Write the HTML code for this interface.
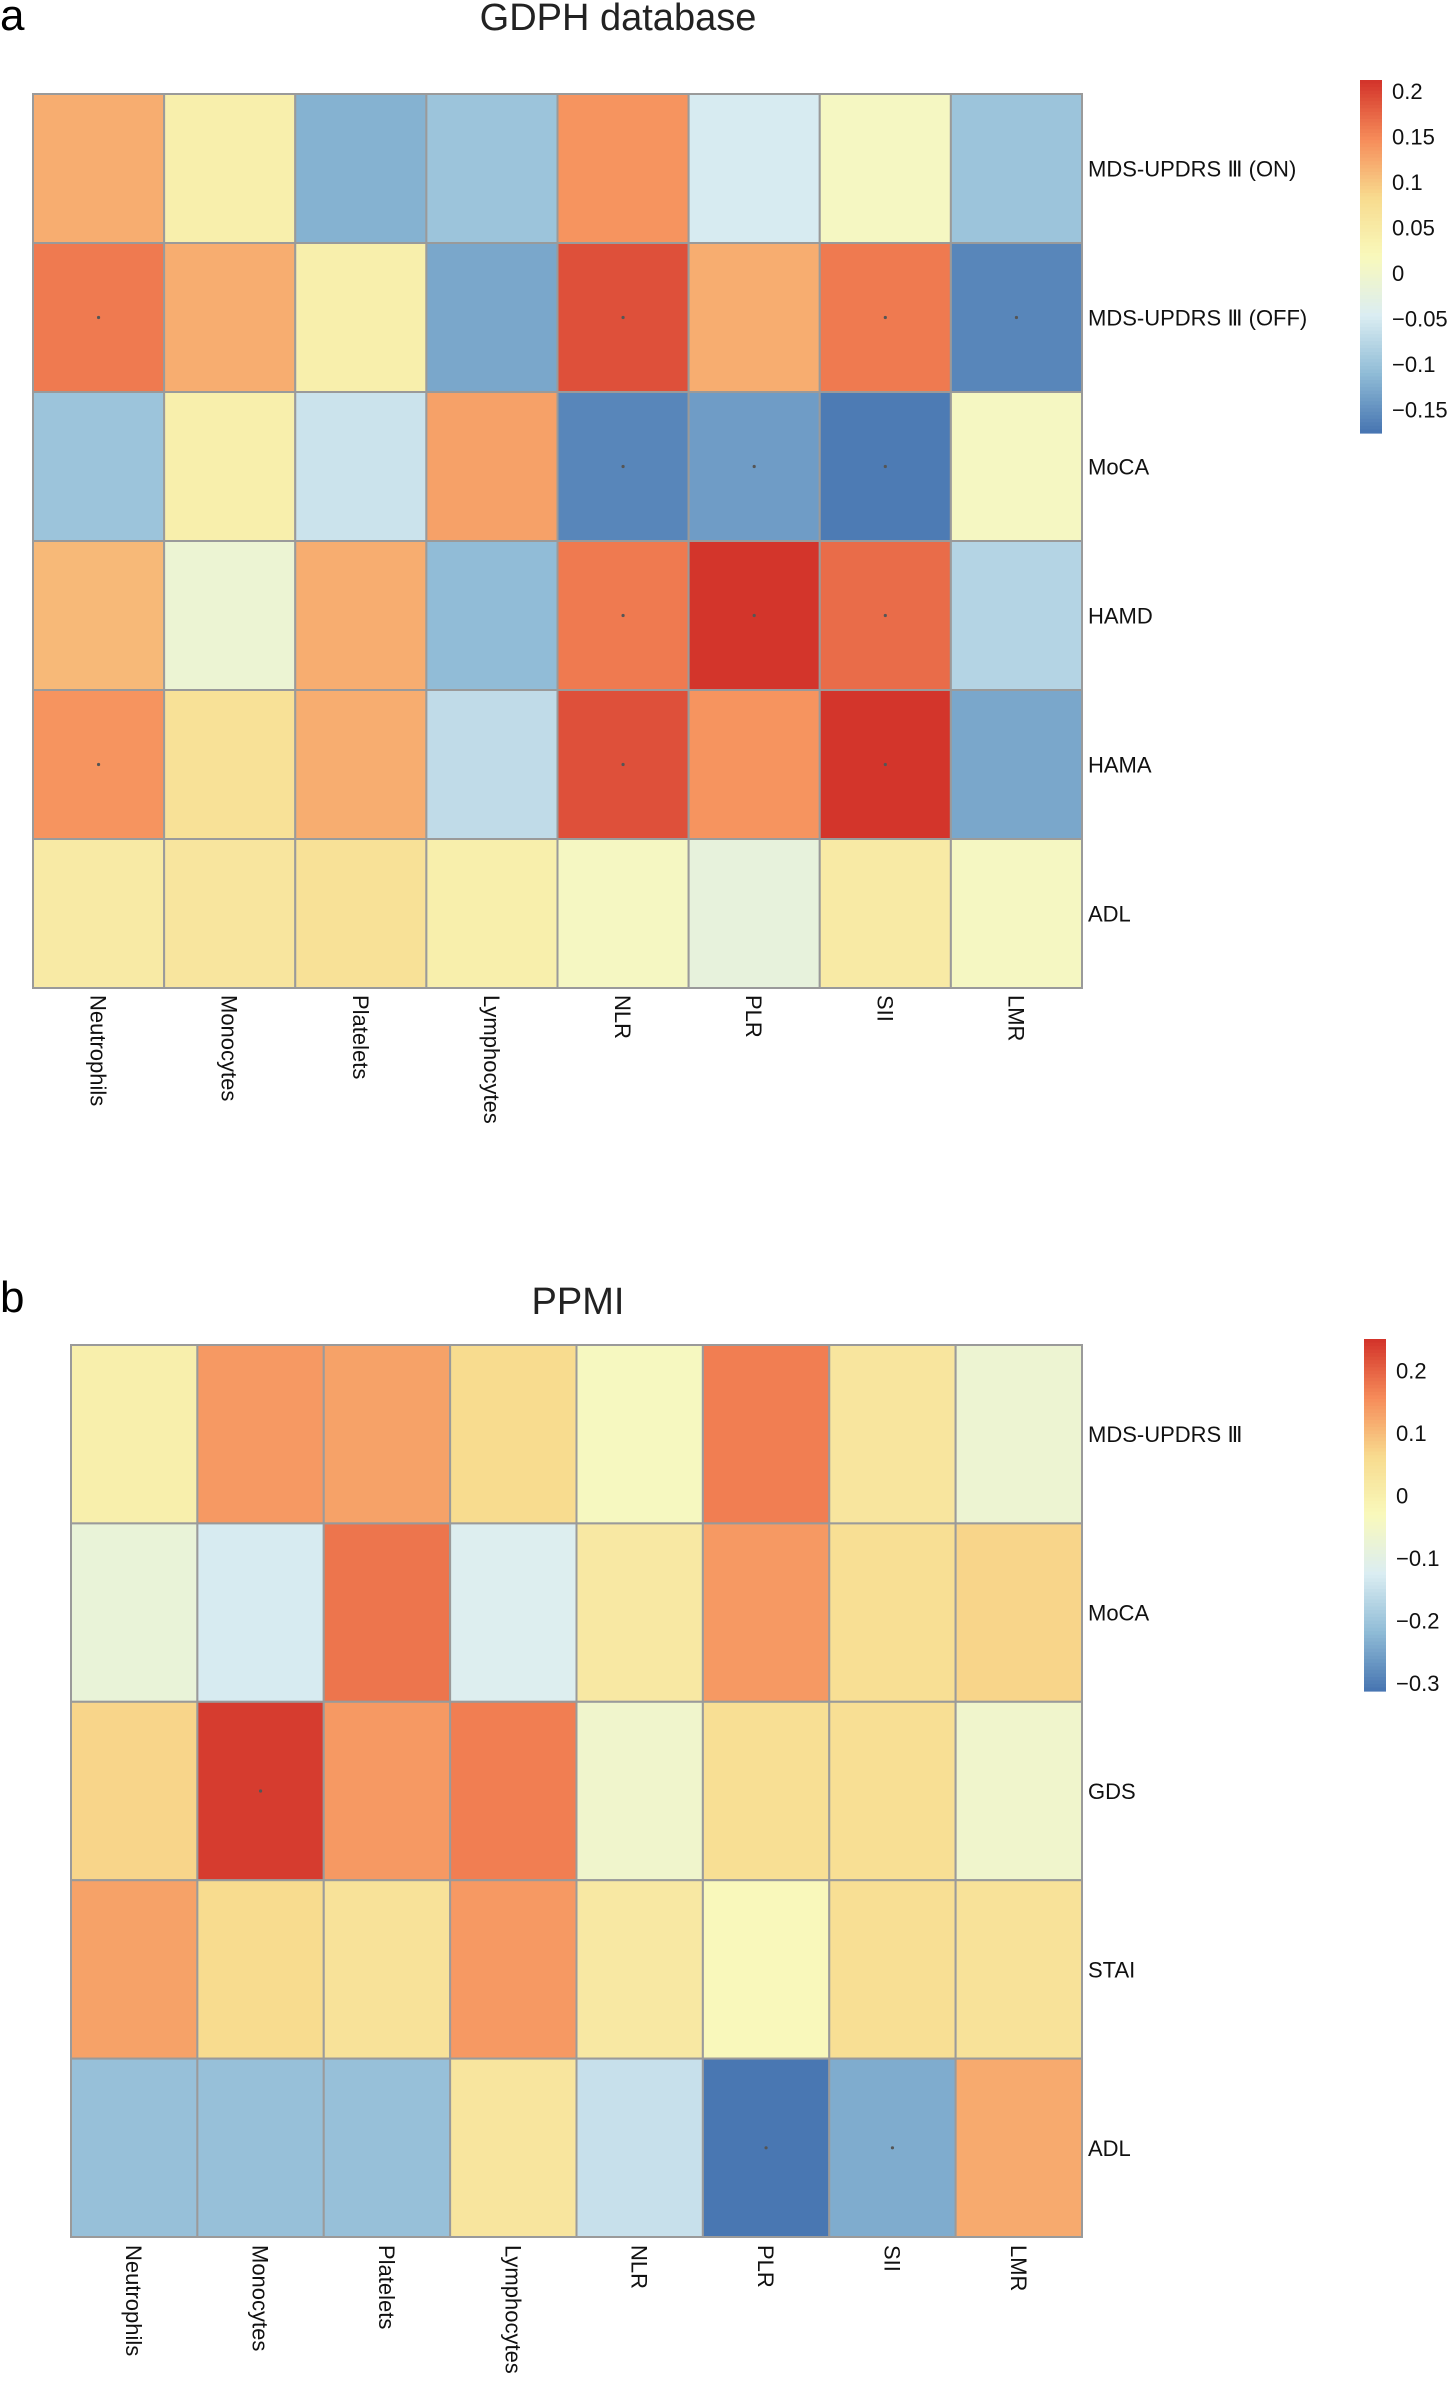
<!DOCTYPE html>
<html><head><meta charset="utf-8"><style>
html,body{margin:0;padding:0;background:#fff;}
svg{display:block;font-family:"Liberation Sans",sans-serif;}
</style></head><body>
<svg id="fig" width="1450" height="2381" viewBox="0 0 1450 2381">
<text x="0" y="30" font-size="44">a</text>
<text x="618" y="30" font-size="38" text-anchor="middle" fill="#222">GDPH database</text>
<text x="0" y="1312" font-size="44">b</text>
<text x="578" y="1314" font-size="38" text-anchor="middle" fill="#222">PPMI</text>
<g id="ga"></g>
<g id="gb"></g>
</svg>
<script>
const colsA = ["Neutrophils","Monocytes","Platelets","Lymphocytes","NLR","PLR","SII","LMR"];
const rowsA = ["MDS-UPDRS \u2162 (ON)","MDS-UPDRS \u2162 (OFF)","MoCA","HAMD","HAMA","ADL"];
const valsA = [
 [0.12,0.04,-0.12,-0.10,0.14,-0.05,0.01,-0.10],
 [0.16,0.12,0.04,-0.13,0.19,0.12,0.16,-0.16],
 [-0.10,0.04,-0.06,0.13,-0.16,-0.14,-0.17,0.01],
 [0.11,-0.01,0.12,-0.11,0.16,0.21,0.17,-0.08],
 [0.14,0.07,0.12,-0.07,0.19,0.14,0.21,-0.13],
 [0.05,0.06,0.07,0.04,0.01,-0.02,0.05,0.01]];
const sigA = [[0,0,0,0,0,0,0,0],[1,0,0,0,1,0,1,1],[0,0,0,0,1,1,1,0],[0,0,0,0,1,1,1,0],[1,0,0,0,1,0,1,0],[0,0,0,0,0,0,0,0]];
const ticksA = [0.2,0.15,0.1,0.05,0,-0.05,-0.1,-0.15];
const tickLabelsA = ["0.2","0.15","0.1","0.05","0","\u22120.05","\u22120.1","\u22120.15"];

const colsB = ["Neutrophils","Monocytes","Platelets","Lymphocytes","NLR","PLR","SII","LMR"];
const rowsB = ["MDS-UPDRS \u2162","MoCA","GDS","STAI","ADL"];
const valsB = [
 [0.00,0.14,0.13,0.06,-0.04,0.17,0.03,-0.07],
 [-0.08,-0.13,0.18,-0.12,0.02,0.14,0.05,0.07],
 [0.07,0.24,0.14,0.17,-0.06,0.05,0.05,-0.06],
 [0.13,0.06,0.04,0.14,0.02,-0.03,0.05,0.04],
 [-0.21,-0.21,-0.21,0.03,-0.15,-0.31,-0.24,0.12]];
const sigB = [[0,0,0,0,0,0,0,0],[0,0,0,0,0,0,0,0],[0,1,0,0,0,0,0,0],[0,0,0,0,0,0,0,0],[0,0,0,0,0,1,1,0]];
const ticksB = [0.2,0.1,0,-0.1,-0.2,-0.3];
const tickLabelsB = ["0.2","0.1","0","\u22120.1","\u22120.2","\u22120.3"];

const pal = [[69,117,180],[145,191,219],[224,243,248],[255,255,191],[254,224,144],[252,141,89],[215,48,39]];
function colorAt(f){f=Math.max(0,Math.min(1,f));const p=f*6,i=Math.min(5,Math.floor(p)),t=p-i;
 const c=pal[i].map((v,k)=>Math.round((v+(pal[i+1][k]-v)*t)*0.96+4));return `rgb(${c[0]},${c[1]},${c[2]})`;}
const NS="http://www.w3.org/2000/svg";
function mk(tag,attrs,parent){const e=document.createElementNS(NS,tag);for(const k in attrs)e.setAttribute(k,attrs[k]);parent.appendChild(e);return e;}

function draw(g,cfg){
 const {cols,rows,vals,sig,x0,x1,y0,y1,vmin,vmax,cbx,cby0,cby1,ticks,tickLabels,labelY,p}=cfg;
 const cw=(x1-x0)/cols.length, rh=(y1-y0)/rows.length;
 const cmap=v=>colorAt((v-vmin)/(vmax-vmin));
 rows.forEach((r,i)=>{cols.forEach((c,j)=>{
  const rc=mk('rect',{x:x0+j*cw,y:y0+i*rh,width:cw,height:rh,fill:cmap(vals[i][j]),stroke:'#9a9a9a','stroke-width':2},g);
  
  
  if(sig[i][j]){const d=mk('circle',{cx:x0+(j+0.5)*cw,cy:y0+(i+0.5)*rh,r:1.6,fill:'#555'},g);
   
   }
 });
  const t=mk('text',{x:x1+6,y:y0+(i+0.5)*rh+8,'font-size':22,fill:'#111'},g);t.textContent=r;
  
  
 });
 cols.forEach((c,j)=>{const cx=x0+(j+0.5)*cw-8;
  const t=mk('text',{x:0,y:0,'font-size':22,fill:'#111',transform:`translate(${cx},${labelY}) rotate(90)`},g);t.textContent=c;
  
  });
 const n=100,hh=(cby1-cby0)/n;
 const cb=mk('g',{},g);
 
 
 const vAtY=y=>vmax-(y-cby0)/(cby1-cby0)*(vmax-vmin);
 for(let k=0;k<n;k++){mk('rect',{x:cbx,y:cby0+k*hh,width:22,height:hh+0.6,fill:cmap(vAtY(cby0+(k+0.5)*hh))},cb);}
 ticks.forEach((tv,k)=>{const y=cby0+(vmax-tv)/(vmax-vmin)*(cby1-cby0);
  const t=mk('text',{x:cbx+32,y:y+8,'font-size':22,fill:'#111'},cb);t.textContent=tickLabels[k];
  
  });
}
draw(document.getElementById('ga'),{cols:colsA,rows:rowsA,vals:valsA,sig:sigA,x0:33,x1:1082,y0:94,y1:988,
 vmin:-0.176,vmax:0.212,cbx:1360,cby0:80,cby1:433,ticks:ticksA,tickLabels:tickLabelsA,labelY:995,p:'a'});
draw(document.getElementById('gb'),{cols:colsB,rows:rowsB,vals:valsB,sig:sigB,x0:71,x1:1082,y0:1345,y1:2237,
 vmin:-0.313,vmax:0.25,cbx:1364,cby0:1339,cby1:1691,ticks:ticksB,tickLabels:tickLabelsB,labelY:2245,p:'b'});
</script>
</body></html>
